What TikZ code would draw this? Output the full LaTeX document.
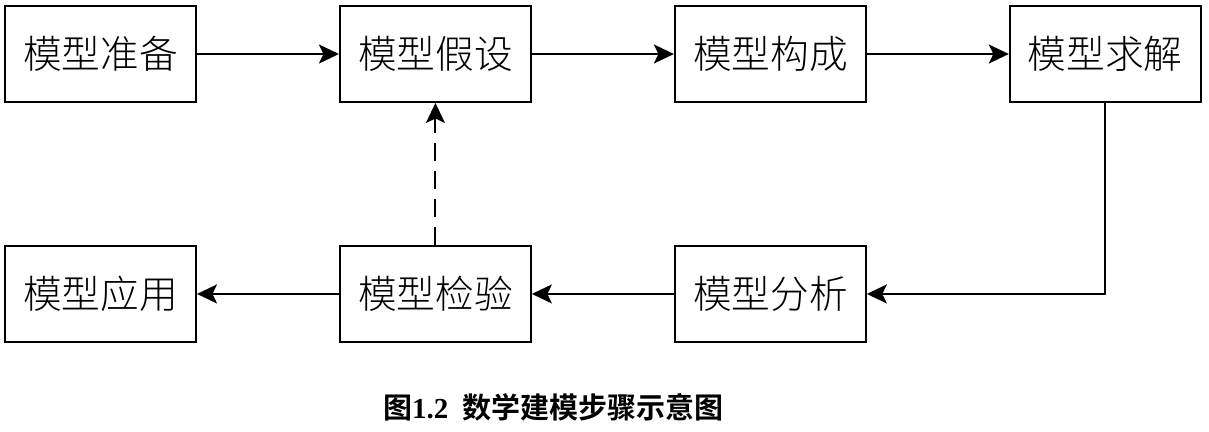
\documentclass[tikz,border=0pt]{standalone}
\usepackage{fontspec}
\setmainfont{Liberation Serif}
\newfontfamily\cjk[UprightFont=* Light, BoldFont=* Bold]{Noto Sans CJK SC}
\usetikzlibrary{arrows.meta, positioning}

\begin{document}
\begin{tikzpicture}[
    node distance=2.84cm and 2.84cm,
    box/.style={rectangle, draw, line width=1.1pt, minimum width=3.82cm,
                minimum height=1.92cm, align=center, inner sep=0pt,
                font=\cjk\fontsize{22}{24}\selectfont},
    arrow/.style={-{Stealth[length=0.4cm, width=0.38cm, inset=0.09cm]}, line width=1.1pt}
]
\useasboundingbox (0,0) rectangle (24.18,-8.62);

% Top row
\node[box] (prep) at (2.01,-1.08) {模型准备};
\node[box, right=of prep] (assume) {模型假设};
\node[box, right=of assume] (build) {模型构成};
\node[box, right=of build] (solve) {模型求解};

% Bottom row
\node[box, below=of prep] (apply) {模型应用};
\node[box, below=of assume] (check) {模型检验};
\node[box, below=of build] (analyse) {模型分析};

% Caption
\node[font=\fontsize{16.5}{18}\selectfont\bfseries] (caption) at (11.07,-8.14)
    {{\cjk 图}1.2\hspace{0.5em}{\cjk 数学建模步骤示意图}};

% Arrows
\draw[arrow] (prep) -- (assume);
\draw[arrow] (assume) -- (build);
\draw[arrow] (build) -- (solve);
\draw[arrow] (solve.south) |- (analyse.east);
\draw[arrow] (analyse) -- (check);
\draw[arrow] (check) -- (apply);
\draw[arrow, dash pattern=on 0.36cm off 0.2cm] (check) -- (assume);

\end{tikzpicture}
\end{document}
